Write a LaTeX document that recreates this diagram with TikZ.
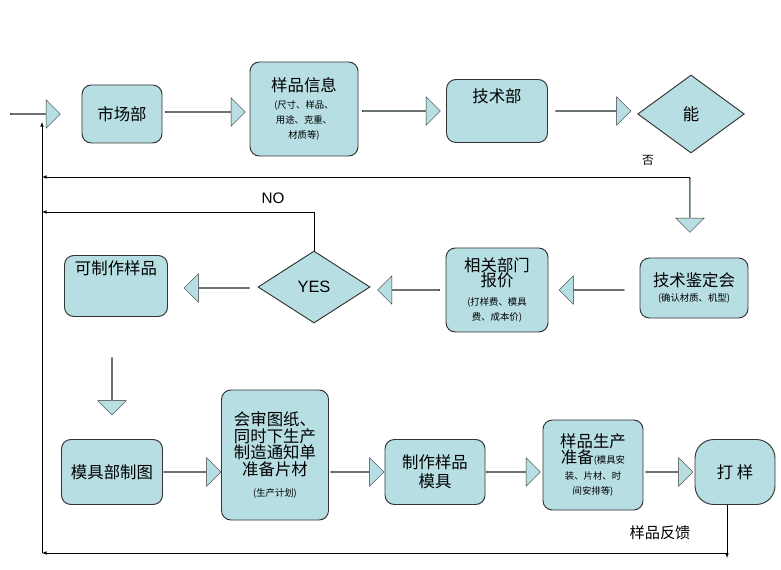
\documentclass[tikz,border=0pt]{standalone}
\usepackage{fontspec}
\setmainfont{Noto Sans CJK SC}
\newfontfamily\lat{Liberation Sans}
\usetikzlibrary{shapes.geometric,shapes.arrows,arrows}
\definecolor{boxc}{HTML}{B7DEE3}
\newcommand\sm{\fontsize{8}{10}\selectfont}
\tikzset{
  box/.style={draw=black!80,thick,fill=boxc,rounded corners=8pt,align=center,inner sep=1pt,font=\fontsize{14}{16}\selectfont},
  dia/.style={draw=black!80,thick,fill=boxc,diamond,aspect=1.4,inner sep=0pt,font=\fontsize{14}{16}\selectfont},
  blk/.style={draw=black!80,fill=boxc,single arrow,minimum height=#1,minimum width=0.85cm,
    single arrow head extend=0.13cm,inner sep=0pt,anchor=center},
  fb/.style={-latex,thin}
}
\begin{document}
\begin{tikzpicture}[x=0.03cm,y=-0.03cm]
\useasboundingbox (0,0) rectangle (781,570);
% boxes
\node[box,minimum width=2.4cm,minimum height=1.74cm] (sc) at (122,114) {市场部};
\node[box,minimum width=3.24cm,minimum height=2.82cm] (xx) at (304,109) {样品信息\\[-2pt]{\sm (尺寸、样品、}\\[-3pt]{\sm 用途、克重、}\\[-3pt]{\sm 材质等)}};
\node[box,minimum width=3.03cm,minimum height=1.89cm] (js) at (497,111) {技术部\\[10pt]};
\node[dia,minimum width=3.2cm,minimum height=2.34cm] (neng) at (691,114) {能};
\node[box,minimum width=3.24cm,minimum height=1.8cm] (jd) at (694,288) {技术鉴定会\\[-3pt]{\sm (确认材质、机型)}};
\node[box,minimum width=3.06cm,minimum height=2.52cm] (bj) at (497,290) {相关部门\\[-3pt]报价\\{\sm (打样费、模具}\\[-3pt]{\sm 费、成本价)}};
\node[dia,minimum width=3.36cm,minimum height=2.16cm,font=\lat\fontsize{14}{16}\selectfont] (yes) at (314,287) {YES};
\node[box,minimum width=3.09cm,minimum height=1.83cm] (kz) at (116,286) {可制作样品\\[16pt]};
\node[box,minimum width=3.03cm,minimum height=1.95cm] (mj) at (112,472) {模具部制图};
\node[box,minimum width=3.21cm,minimum height=3.9cm] (hs) at (275,455) {会审图纸、\\[-2pt]同时下生产\\[-2pt]制造通知单\\[-2pt]准备片材\\[2pt]{\sm (生产计划)}};
\node[box,minimum width=3cm,minimum height=1.95cm] (zz) at (435,472) {制作样品\\模具};
\node[box,minimum width=3cm,minimum height=2.7cm] (zb) at (593,465) {样品生产\\[-2pt]准备{\sm (模具安}\\[-3pt]{\sm 装、片材、时}\\[-3pt]{\sm 间安排等)}};
\node[box,rounded corners=16pt,minimum width=2.4cm,minimum height=1.95cm] (dy) at (735,472) {打 样};
% block arrows
\node[blk=1.5cm] (a0) at (35,114) {};
\node[blk=2.4cm] (a1) at (205,112) {};
\node[blk=2.34cm] (a2) at (401,111) {};
\node[blk=2.25cm] (a3) at (593,111) {};
\node[blk=1.62cm,rotate=-90] (a4) at (690,205) {};
\node[blk=1.95cm,rotate=180] (a5) at (592,290) {};
\node[blk=1.86cm,rotate=180] (a6) at (409,290) {};
\node[blk=1.95cm,rotate=180] (a7) at (217,288) {};
\node[blk=1.71cm,rotate=-90] (a8) at (112,386) {};
\node[blk=1.71cm] (a9) at (192,472) {};
\node[blk=1.59cm] (a10) at (357,472) {};
\node[blk=1.62cm] (a11) at (513,472) {};
\node[blk=1.41cm] (a12) at (669,472) {};
% feedback lines
\coordinate (l0) at (42,553);
\coordinate (l1) at (42,177);
\coordinate (l2) at (42,212);
\coordinate (l3) at (314,212);
\coordinate (l4) at (727,553);
\coordinate (l5) at (727,558);
\coordinate (l6) at (42,122);
\draw[fb] (l0) -- (l6);
\draw[fb] (a4.east |- l1) -- (l1);
\draw[fb] (yes.north) -- (l3) -- (l2);
\draw[fb] (dy.south -| l4) -- (l5);
\draw[fb] (l4) -- (l0);
% labels
\node at (648,160) {否};
\node[font=\lat\fontsize{13}{15}\selectfont] at (273,198) {NO};
\node[font=\fontsize{13}{15}\selectfont] at (660,533) {样品反馈};
\end{tikzpicture}
\end{document}
